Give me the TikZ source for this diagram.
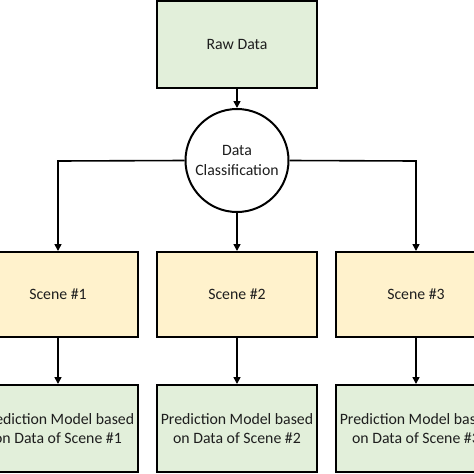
\documentclass[tikz,border=0pt]{standalone}
\usepackage{fontspec}
\setmainfont{Carlito}
\usetikzlibrary{arrows.meta}
\definecolor{boxgreen}{HTML}{E2EFDA}
\definecolor{boxyellow}{HTML}{FFF2CC}
\definecolor{txt}{HTML}{1E1E1E}
\begin{document}
\begin{tikzpicture}[x=1pt,y=-1pt,
  every node/.style={font=\fontsize{15.8}{19.5}\selectfont, text=txt},
  gbox/.style={draw=black, line width=2pt, fill=boxgreen, minimum width=160pt, minimum height=87pt, inner sep=0pt, align=center},
  ybox/.style={draw=black, line width=2pt, fill=boxyellow, minimum width=160pt, minimum height=85pt, inner sep=0pt, align=center},
  cbox/.style={draw=black, line width=2pt, fill=white, circle, minimum size=103pt, inner sep=0pt, align=center},
  conn/.style={draw=black, line width=1.6pt, -{Triangle[length=7pt,width=7pt]}},
  link/.style={draw=black, line width=1.6pt}]
\clip (0,0) rectangle (474,474);
\fill[white] (0,0) rectangle (474,474);
\node[gbox] (raw) at (237,44.5) {Raw Data};
\node[cbox] (cls) at (237,160.5) {Data\\Classification};
\node[ybox] (s1) at (58,294.5) {Scene \#1};
\node[ybox] (s2) at (237,294.5) {Scene \#2};
\node[ybox] (s3) at (416,294.5) {Scene \#3};
\node[gbox] (p1) at (58,428.5) {Prediction Model based\\on Data of Scene \#1};
\node[gbox] (p2) at (237,428.5) {Prediction Model based\\on Data of Scene \#2};
\node[gbox] (p3) at (416,428.5) {Prediction Model based\\on Data of Scene \#3};
\coordinate (cl) at (58,161);
\coordinate (cr) at (416,161);
\draw[conn] (raw.south) -- (cls.north);
\draw[conn] (cls.west) -- (cl) -- (s1.north);
\draw[conn] (cls.south) -- (s2.north);
\draw[conn] (cls.east) -- (cr) -- (s3.north);
\draw[conn] (s1.south) -- (p1.north);
\draw[conn] (s2.south) -- (p2.north);
\draw[conn] (s3.south) -- (p3.north);
\end{tikzpicture}
\end{document}
